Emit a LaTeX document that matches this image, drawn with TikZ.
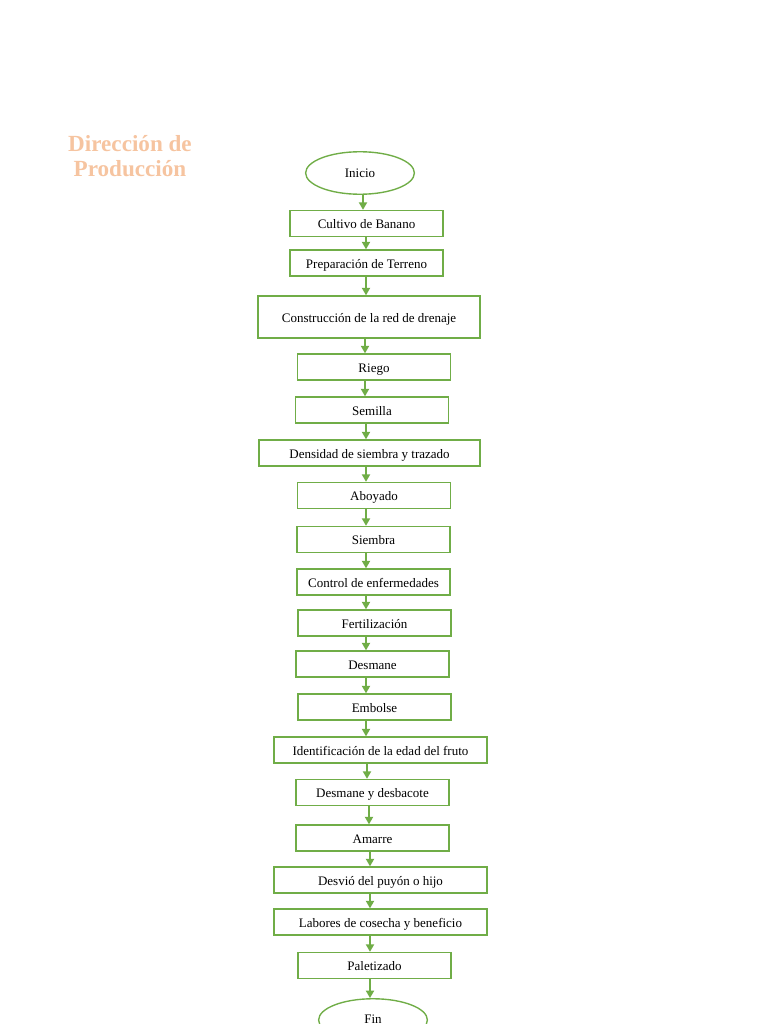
\documentclass[tikz,border=0pt]{standalone}
\usepackage{fontspec}
\setmainfont{Liberation Serif}
\usetikzlibrary{shapes.geometric,arrows.meta}
\definecolor{verde}{RGB}{112,173,71}
\definecolor{naranja}{RGB}{246,196,160}

\begin{document}
\begin{tikzpicture}[x=0.8pt,y=-0.8pt,
  caja/.style={draw=verde,line width=1.1pt,minimum width=122.4pt,minimum height=20.8pt,
    text height=2ex,text depth=0.12ex,font=\fontsize{10.4}{12}\selectfont},
  elipse/.style={ellipse,draw=verde,line width=1.1pt,minimum width=87pt,minimum height=34pt,font=\fontsize{10.4}{12}\selectfont},
  flecha/.style={draw=verde,line width=1.3pt,-{Triangle[width=6.5pt,length=6pt]}}]
  \useasboundingbox (0,0) rectangle (768,1024);
  % titulo
  \node[text=naranja,font=\fontsize{18.5}{20}\selectfont\bfseries,align=center] (titulo) at (130,156) {Dirección de\\Producción};
  % diagrama
  \node[elipse] (inicio) at (360,173) {Inicio};
  \node[caja] (cultivo) at (366.5,223.5) {Cultivo de Banano};
  \node[caja] (terreno) at (366.5,263) {Preparación de Terreno};
  \node[caja,minimum width=177.6pt,minimum height=33.6pt] (drenaje) at (369,317) {Construcción de la red de drenaje};
  \node[caja] (riego) at (374,367) {Riego};
  \node[caja] (semilla) at (372,410) {Semilla};
  \node[caja,minimum width=176.8pt] (densidad) at (369.5,453) {Densidad de siembra y trazado};
  \node[caja] (aboyado) at (374,495.5) {Aboyado};
  \node[caja] (siembra) at (373.5,539.5) {Siembra};
  \node[caja] (control) at (373.5,582) {Control de enfermedades};
  \node[caja] (fertil) at (374.5,623) {Fertilización};
  \node[caja] (desmane) at (372.5,664) {Desmane};
  \node[caja] (embolse) at (374.5,707) {Embolse};
  \node[caja,minimum width=170.4pt] (edad) at (380.5,750) {Identificación de la edad del fruto};
  \node[caja] (desbacote) at (372.5,792.5) {Desmane y desbacote};
  \node[caja] (amarre) at (372.5,838) {Amarre};
  \node[caja,minimum width=170.4pt] (puyon) at (380.5,880) {Desvió del puyón o hijo};
  \node[caja,minimum width=170.4pt] (cosecha) at (380.5,922) {Labores de cosecha y beneficio};
  \node[caja] (paletizado) at (374.5,965.5) {Paletizado};
  \node[elipse] (fin) at (373,1020) {\raisebox{2pt}{Fin}};
  % flechas
  \foreach \a/\b/\x in {inicio/cultivo/363,cultivo/terreno/366,terreno/drenaje/366,
      drenaje/riego/365,riego/semilla/365,semilla/densidad/366,densidad/aboyado/366,
      aboyado/siembra/366,siembra/control/366,control/fertil/366,fertil/desmane/366,
      desmane/embolse/366,embolse/edad/366,edad/desbacote/367,desbacote/amarre/369,
      amarre/puyon/370,puyon/cosecha/370,cosecha/paletizado/370,paletizado/fin/370}
    \draw[flecha] (\a.south -| \x,0) -- (\b.north -| \x,0);
\end{tikzpicture}
\end{document}
